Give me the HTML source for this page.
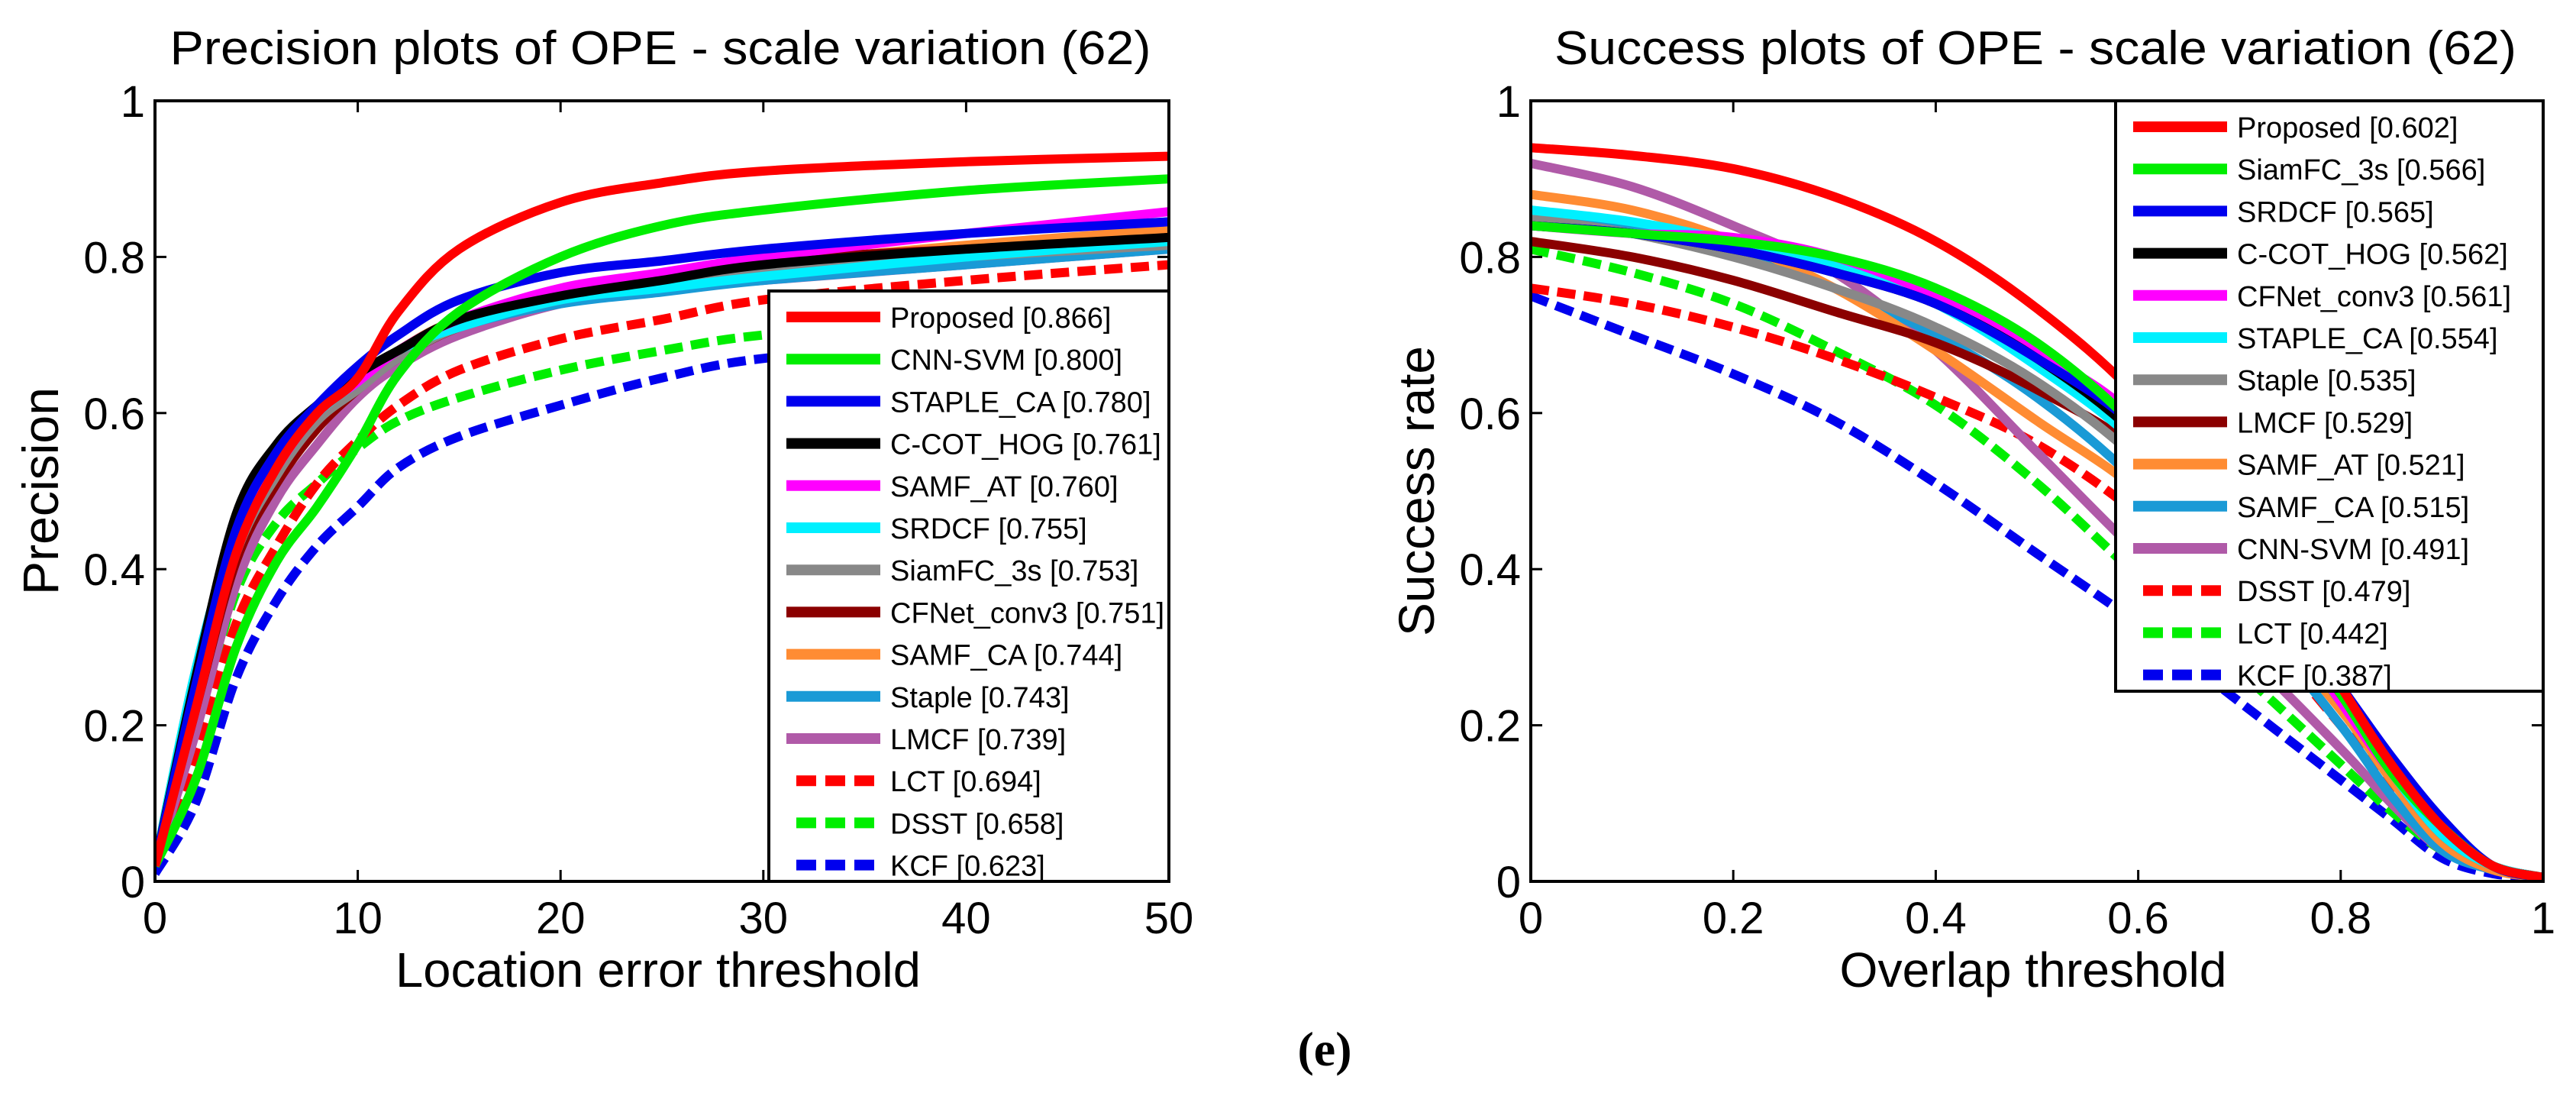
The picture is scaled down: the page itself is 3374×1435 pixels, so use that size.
<!DOCTYPE html>
<html><head><meta charset="utf-8">
<style>
html,body{margin:0;padding:0;background:#fff;}
svg{display:block;}
text{font-family:"Liberation Sans",Arial,sans-serif;fill:#000;}
</style></head>
<body>
<svg id="fig" width="3374" height="1435" viewBox="0 0 3374 1435" xmlns="http://www.w3.org/2000/svg">
<rect width="3374" height="1435" fill="#fff"/>
<g id="left"></g>
<g id="right"></g>
<text x="1735" y="1395" text-anchor="middle" font-size="64" font-weight="bold" style="font-family:'Liberation Serif',serif">(e)</text>
</svg>
<script>
// ---------- data ----------
const colors = ['#ff0000','#00ee00','#0000ee','#000000','#ff00ff','#00f0ff','#888888','#8b0000','#ff8c33','#1a9ad6','#b05aa8','#ff0000','#00ee00','#0000ee'];
const dashed = [false,false,false,false,false,false,false,false,false,false,false,true,true,true];

const precX = [0,2,4,6,8,10,12,15,20,25,30,40,50];
const precNames = ['Proposed [0.866]','CNN-SVM [0.800]','STAPLE_CA [0.780]','C-COT_HOG [0.761]','SAMF_AT [0.760]','SRDCF [0.755]','SiamFC_3s [0.753]','CFNet_conv3 [0.751]','SAMF_CA [0.744]','Staple [0.743]','LMCF [0.739]','LCT [0.694]','DSST [0.658]','KCF [0.623]'];
const precProposed = [0.02,0.22,0.42,0.53,0.60,0.645,0.73,0.81,0.87,0.895,0.91,0.922,0.929];
const precCNNSVM   = [0.02,0.13,0.30,0.41,0.48,0.56,0.65,0.73,0.80,0.84,0.86,0.885,0.90];
const precSTAPLECA = [0.02,0.25,0.45,0.55,0.61,0.66,0.70,0.745,0.78,0.795,0.81,0.83,0.845];
const precCCOT     = [0.02,0.26,0.47,0.56,0.61,0.65,0.68,0.72,0.75,0.77,0.79,0.81,0.825];
const precSAMFAT   = [0.02,0.24,0.43,0.53,0.60,0.64,0.68,0.72,0.76,0.78,0.80,0.83,0.858];
const precSRDCF    = [0.02,0.27,0.45,0.54,0.60,0.64,0.68,0.71,0.745,0.76,0.775,0.80,0.82];
const precSiamFC   = [0.02,0.23,0.42,0.52,0.59,0.63,0.67,0.71,0.745,0.765,0.78,0.80,0.815];
const precCFNet    = [0.02,0.22,0.41,0.51,0.58,0.63,0.67,0.71,0.75,0.775,0.795,0.81,0.822];
const precSAMFCA   = [0.02,0.23,0.42,0.52,0.59,0.64,0.68,0.72,0.75,0.77,0.79,0.815,0.835];
const precStaple   = [0.02,0.27,0.45,0.54,0.60,0.64,0.67,0.71,0.74,0.755,0.77,0.79,0.81];
const precLMCF     = [0.02,0.19,0.38,0.49,0.56,0.62,0.66,0.70,0.74,0.76,0.77,0.79,0.81];
const precLCT      = [0.02,0.16,0.33,0.43,0.51,0.565,0.61,0.655,0.695,0.72,0.745,0.77,0.79];
const precDSST     = [0.02,0.19,0.37,0.46,0.51,0.555,0.59,0.62,0.655,0.68,0.70,0.72,0.735];
const precKCF      = [0.01,0.10,0.26,0.36,0.43,0.48,0.53,0.57,0.61,0.645,0.67,0.69,0.70];
const precXTicks = [0,10,20,30,40,50];
const precYTicks = [0,0.2,0.4,0.6,0.8,1];
const precYTickLabels = ['0','0.2','0.4','0.6','0.8','1'];

const succX = [0,0.1,0.2,0.3,0.4,0.5,0.6,0.7,0.8,0.85,0.9,0.95,1];
const succNames = ['Proposed [0.602]','SiamFC_3s [0.566]','SRDCF [0.565]','C-COT_HOG [0.562]','CFNet_conv3 [0.561]','STAPLE_CA [0.554]','Staple [0.535]','LMCF [0.529]','SAMF_AT [0.521]','SAMF_CA [0.515]','CNN-SVM [0.491]','DSST [0.479]','LCT [0.442]','KCF [0.387]'];
const succProposed = [0.94,0.93,0.913,0.877,0.82,0.734,0.62,0.46,0.25,0.15,0.07,0.02,0.005];
const succSiamFC   = [0.84,0.83,0.82,0.80,0.76,0.69,0.58,0.43,0.24,0.14,0.07,0.02,0.005];
const succSRDCF    = [0.84,0.83,0.81,0.78,0.74,0.67,0.58,0.43,0.25,0.16,0.08,0.02,0.005];
const succCCOT     = [0.84,0.83,0.81,0.78,0.74,0.67,0.57,0.42,0.24,0.15,0.07,0.02,0.005];
const succCFNet    = [0.84,0.83,0.825,0.80,0.75,0.68,0.59,0.42,0.23,0.14,0.07,0.02,0.005];
const succSTAPLECA = [0.86,0.845,0.82,0.79,0.74,0.66,0.56,0.41,0.23,0.14,0.06,0.02,0.005];
const succStaple   = [0.85,0.83,0.80,0.76,0.71,0.64,0.54,0.40,0.23,0.14,0.06,0.02,0.005];
const succLMCF     = [0.82,0.80,0.77,0.73,0.69,0.63,0.55,0.40,0.23,0.14,0.06,0.02,0.005];
const succSAMFAT   = [0.88,0.86,0.82,0.76,0.68,0.59,0.50,0.37,0.22,0.13,0.05,0.015,0.005];
const succSAMFCA   = [0.86,0.84,0.81,0.76,0.70,0.62,0.51,0.36,0.20,0.11,0.04,0.015,0.005];
const succCNNSVM   = [0.92,0.89,0.84,0.78,0.68,0.55,0.42,0.30,0.17,0.10,0.04,0.015,0.005];
const succDSST     = [0.76,0.74,0.71,0.67,0.62,0.56,0.47,0.35,0.20,0.12,0.05,0.015,0.005];
const succLCT      = [0.81,0.78,0.74,0.68,0.61,0.51,0.39,0.27,0.15,0.09,0.04,0.015,0.005];
const succKCF      = [0.75,0.70,0.65,0.59,0.51,0.42,0.33,0.23,0.13,0.08,0.03,0.01,0.005];
const succXTicks = [0,0.2,0.4,0.6,0.8,1];
const succXTickLabels = ['0','0.2','0.4','0.6','0.8','1'];
const succYTicks = [0,0.2,0.4,0.6,0.8,1];
const succYTickLabels = ['0','0.2','0.4','0.6','0.8','1'];

const precSeries = [precProposed,precCNNSVM,precSTAPLECA,precCCOT,precSAMFAT,precSRDCF,precSiamFC,precCFNet,precSAMFCA,precStaple,precLMCF,precLCT,precDSST,precKCF];
const succSeries = [succProposed,succSiamFC,succSRDCF,succCCOT,succCFNet,succSTAPLECA,succStaple,succLMCF,succSAMFAT,succSAMFCA,succCNNSVM,succDSST,succLCT,succKCF];

const NS = 'http://www.w3.org/2000/svg';
function mk(tag, attrs, parent){
  const e = document.createElementNS(NS, tag);
  for (const k in attrs) e.setAttribute(k, attrs[k]);
  parent.appendChild(e);
  return e;
}
function smoothPath(pts){
  let d = 'M' + pts[0][0].toFixed(1) + ',' + pts[0][1].toFixed(1);
  for (let i=0;i<pts.length-1;i++){
    const p0 = pts[Math.max(0,i-1)], p1 = pts[i], p2 = pts[i+1], p3 = pts[Math.min(pts.length-1,i+2)];
    const c1x = p1[0] + (p2[0]-p0[0])/6, c1y = p1[1] + (p2[1]-p0[1])/6;
    const c2x = p2[0] - (p3[0]-p1[0])/6, c2y = p2[1] - (p3[1]-p1[1])/6;
    d += ' C' + c1x.toFixed(1)+','+c1y.toFixed(1)+' '+c2x.toFixed(1)+','+c2y.toFixed(1)+' '+p2[0].toFixed(1)+','+p2[1].toFixed(1);
  }
  return d;
}

function drawPlot(g, cfg){
  const L=cfg.left,R=cfg.right,T=132,B=1154;
  const sx = v => L + (v-cfg.xmin)/(cfg.xmax-cfg.xmin)*(R-L);
  const sy = v => B - v*(B-T);
  const clipId = cfg.id+'clip';
  const defs = mk('defs',{},g);
  const cp = mk('clipPath',{id:clipId},defs);
  mk('rect',{x:L,y:T,width:R-L,height:B-T},cp);

  const t = mk('text',{x:cfg.titleX,y:84,'font-size':62,'text-anchor':'middle',textLength:cfg.titleW,lengthAdjust:'spacingAndGlyphs'},g);
  t.textContent = cfg.title;
  
  

  const lines = mk('g',{'clip-path':'url(#'+clipId+')'},g);
  
  
  for (let s=cfg.series.length-1;s>=0;s--){
    const pts = cfg.xs.map((x,i)=>[sx(x), sy(cfg.series[s][i])]);
    const p = mk('path',{d:smoothPath(pts),fill:'none',stroke:colors[s],'stroke-width':12,'stroke-linejoin':'round'},lines);
    if (dashed[s]) p.setAttribute('stroke-dasharray','24 11');
    
    
  }

  const ax = mk('g',{},g);
  
  
  mk('rect',{x:L,y:T,width:R-L,height:B-T,fill:'none',stroke:'#000','stroke-width':4},ax);
  cfg.xticks.forEach((v,i)=>{
    const x = sx(v);
    mk('line',{x1:x,y1:B,x2:x,y2:B-15,stroke:'#000','stroke-width':3},ax);
    mk('line',{x1:x,y1:T,x2:x,y2:T+15,stroke:'#000','stroke-width':3},ax);
    const tl = mk('text',{x:x,y:1222,'font-size':58,'text-anchor':'middle'},ax);
    tl.textContent = cfg.xlabels[i];
    
    
  });
  cfg.yticks.forEach((v,i)=>{
    const y = sy(v);
    mk('line',{x1:L,y1:y,x2:L+15,y2:y,stroke:'#000','stroke-width':3},ax);
    mk('line',{x1:R,y1:y,x2:R-15,y2:y,stroke:'#000','stroke-width':3},ax);
    const tl = mk('text',{x:L-13,y:y+21,'font-size':58,'text-anchor':'end'},ax);
    tl.textContent = cfg.ylabels[i];
    
    
  });
  const xl = mk('text',{x:cfg.xlabelX,y:1292,'font-size':64,'text-anchor':'middle',textLength:cfg.xlabelW,lengthAdjust:'spacingAndGlyphs'},g);
  xl.textContent = cfg.xlabel;
  
  
  const yl = mk('text',{x:0,y:0,'font-size':66,'text-anchor':'middle',transform:'translate('+cfg.ylabelX+',643) rotate(-90)',textLength:cfg.ylabelW,lengthAdjust:'spacingAndGlyphs'},g);
  yl.textContent = cfg.ylabel;
  
  

  const lg = mk('g',{},g);
  
  
  mk('rect',{x:cfg.lgX,y:cfg.lgY,width:R-cfg.lgX,height:cfg.lgH,fill:'#fff',stroke:'#000','stroke-width':4},lg);
  cfg.names.forEach((n,i)=>{
    const cy = cfg.lgY + 34 + i*55.2;
    const le = mk('g',{},lg);
    
    
    const x1 = cfg.lgX + 23, x2 = cfg.lgX + 146;
    const ln = mk('line',{x1:dashed[i]?x1+13:x1,y1:cy,x2:x2,y2:cy,stroke:colors[i],'stroke-width':14},le);
    if (dashed[i]) ln.setAttribute('stroke-dasharray','26 12');
    const tx = mk('text',{x:cfg.lgX+159,y:cy+14,'font-size':38},le);
    tx.textContent = n;
  });
}

drawPlot(document.getElementById('left'),{
  id:'l', left:203, right:1531, xmin:0, xmax:50,
  title:'Precision plots of OPE - scale variation (62)', titleX:865, titleW:1285,
  xs:precX, series:precSeries, names:precNames,
  xticks:precXTicks, xlabels:precXTicks.map(String), yticks:precYTicks, ylabels:precYTickLabels,
  xlabel:'Location error threshold', xlabelX:862, xlabelW:688,
  ylabel:'Precision', ylabelX:76, ylabelW:272,
  lgX:1007, lgY:381, lgH:773
});
drawPlot(document.getElementById('right'),{
  id:'r', left:2005, right:3331, xmin:0, xmax:1,
  title:'Success plots of OPE - scale variation (62)', titleX:2666, titleW:1260,
  xs:succX, series:succSeries, names:succNames,
  xticks:succXTicks, xlabels:succXTickLabels, yticks:succYTicks, ylabels:succYTickLabels,
  xlabel:'Overlap threshold', xlabelX:2663, xlabelW:507,
  ylabel:'Success rate', ylabelX:1878, ylabelW:380,
  lgX:2771, lgY:132, lgH:773
});
</script>
</body></html>
